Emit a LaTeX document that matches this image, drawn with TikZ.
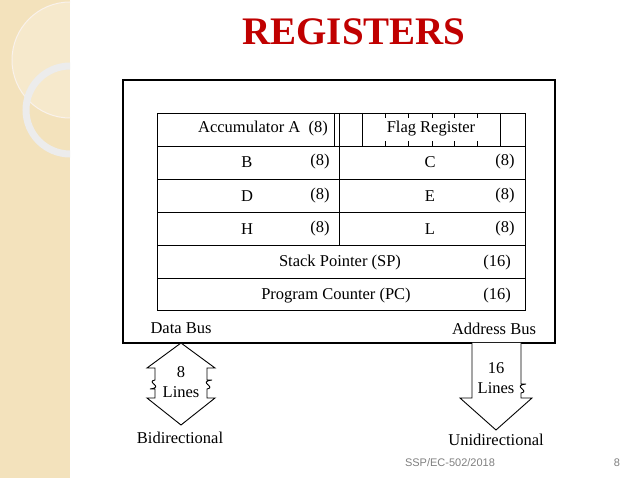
\documentclass[tikz,border=0pt]{standalone}
\usepackage{fontspec}
\setmainfont{Liberation Serif}
\newfontfamily\footfont{Liberation Sans}
\definecolor{beige}{HTML}{F3E2BC}
\definecolor{titlered}{HTML}{C00000}
\begin{document}
\begin{tikzpicture}[x=1pt,y=-1pt,
  thick/.style={line width=1.6pt},
  reg/.style={line width=0.9pt},
  lbl/.style={font=\fontsize{16.5}{18}\selectfont, inner sep=0pt},
  foot/.style={font=\footfont\fontsize{11}{12}\selectfont, text=gray, inner sep=0pt}]
\useasboundingbox (0,0) rectangle (638,478);
\fill[white] (0,0) rectangle (638,478);
% left decorative strip
\fill[beige] (0,0) rectangle (70,478);
\begin{scope}
\clip (0,0) rectangle (70,478);
\fill[white, opacity=0.25] (70,60) circle (58);
\draw[white!90!brown, line width=1pt] (70,60) circle (58);
\draw[white!85!gray, line width=7pt] (70,110) circle (44);
\end{scope}
% title
\node[font=\bfseries\fontsize{39}{44}\selectfont, text=titlered] (title) at (354,32) {REGISTERS};
% outer box
\draw[thick] (123,80) rectangle (555,343);
% register table
\draw[reg] (157,113) rectangle (525,310);
\foreach \y in {146,179,212,245,278} \draw[reg] (157,\y) -- (525,\y);
\draw[reg] (339,113) -- (339,245);
\draw[reg] (334,113) -- (334,146);
\draw[reg] (362,113) -- (362,146);
\draw[reg] (500,113) -- (500,146);
\foreach \x in {385,408,432,454,477} {
  \draw[reg] (\x,113) -- (\x,118);
  \draw[reg] (\x,146) -- (\x,141);
}
\node[lbl] (acc) at (263,129) {Accumulator A\ \ (8)};
\node[lbl] (flag) at (431,129) {Flag Register};
\node[lbl] (b) at (247,162) {B};  \node[lbl] (b8) at (320,162) {(8)};
\node[lbl] (c) at (430,162) {C};  \node[lbl] (c8) at (505,162) {(8)};
\node[lbl] (d) at (247,196) {D};  \node[lbl] (d8) at (320,196) {(8)};
\node[lbl] (e) at (430,196) {E};  \node[lbl] (e8) at (505,196) {(8)};
\node[lbl] (h) at (247,229) {H};  \node[lbl] (h8) at (320,229) {(8)};
\node[lbl] (l) at (430,229) {L};  \node[lbl] (l8) at (505,229) {(8)};
\node[lbl] (sp) at (340,263) {Stack Pointer (SP)}; \node[lbl] (sp16) at (497,263) {(16)};
\node[lbl] (pc) at (336,296) {Program Counter (PC)}; \node[lbl] (pc16) at (497,296) {(16)};
\node[lbl] (db) at (181,328) {Data Bus};
\node[lbl] (ab) at (494,329) {Address Bus};
% bidirectional arrow
\draw[reg, fill=white] (181,343) -- (147,368) -- (155,368) -- (155,380)
  .. controls (145,382) and (165,387) .. (150,389) -- (155,389) -- (155,398) -- (147,398)
  -- (181,425) -- (215,398) -- (207,398) -- (207,389)
  .. controls (217,387) and (197,382) .. (212,380) -- (207,380) -- (207,368) -- (215,368) -- cycle;
\node[lbl] (n8) at (181,372) {8};
\node[lbl] (l1) at (181,392) {Lines};
\node[lbl] (bi) at (180,438) {Bidirectional};
% unidirectional arrow
\draw[reg, fill=white] (472,343) -- (472,398) -- (460,398) -- (496,430) -- (532,398)
  -- (521,398) -- (521,393) .. controls (531,391) and (511,386) .. (526,384) -- (521,384) -- (521,343);
\node[lbl] (n16) at (496,368) {16};
\node[lbl] (l2) at (496,388) {Lines};
\node[lbl] (uni) at (496,440) {Unidirectional};
% footer
\node[foot] (f1) at (450,463) {SSP/EC-502/2018};
\node[foot] (f2) at (617,463) {8};
\end{tikzpicture}
\end{document}
